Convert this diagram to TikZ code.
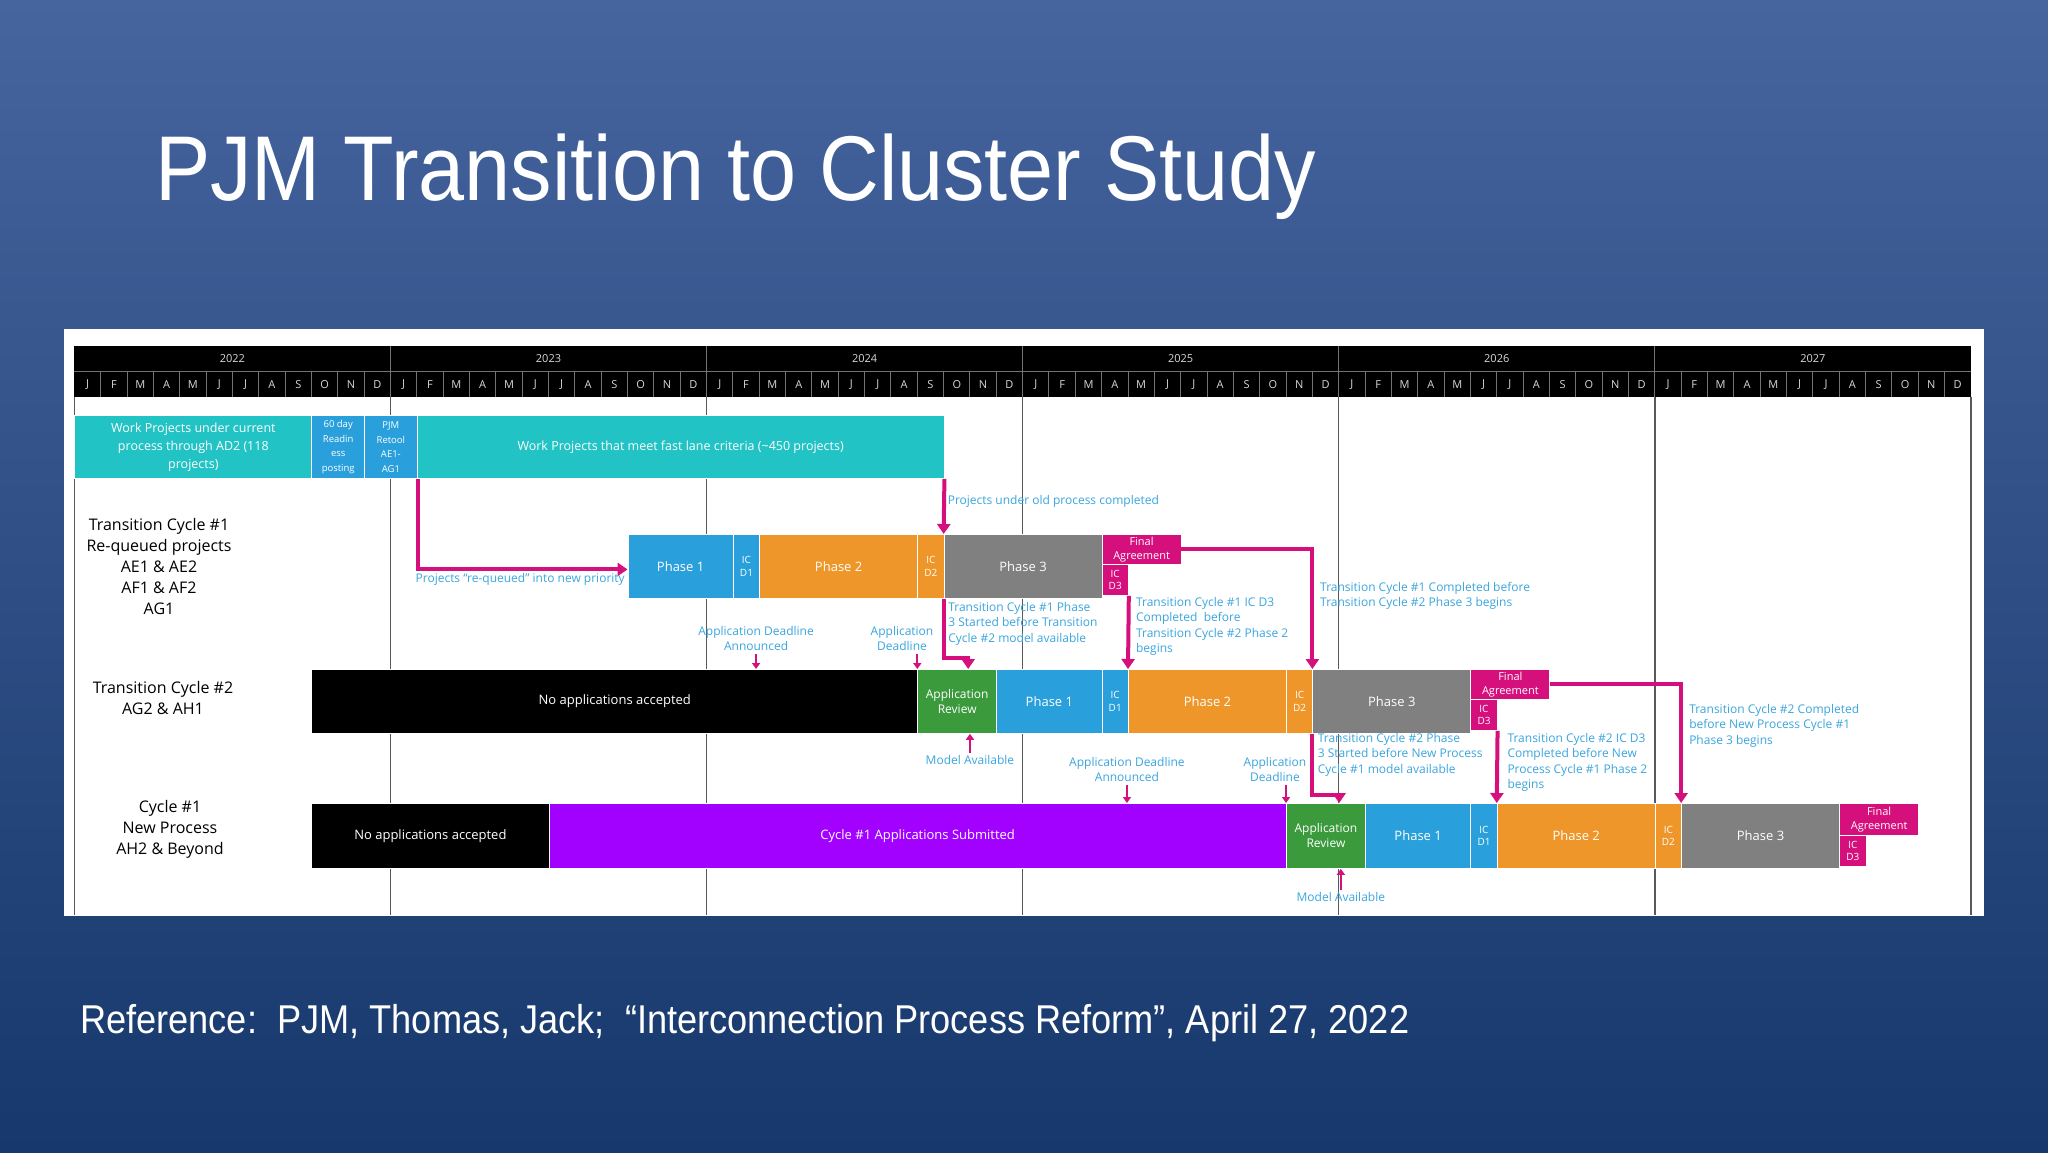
\documentclass[tikz,border=0pt]{standalone}
\usepackage{fontspec}
\setmainfont{Open Sans}
\newfontfamily\titlefont[FakeStretch=0.9]{Liberation Sans}
\usetikzlibrary{arrows.meta}
\definecolor{bgtop}{HTML}{46649E}
\definecolor{bgmid}{HTML}{345792}
\definecolor{bgbot}{HTML}{16386C}
\definecolor{cteal}{HTML}{22C3C4}
\definecolor{cblue}{HTML}{29A0DB}
\definecolor{corange}{HTML}{EE9629}
\definecolor{cgray}{HTML}{808080}
\definecolor{cmag}{HTML}{D5107D}
\definecolor{cgreen}{HTML}{3A9A3C}
\definecolor{cpurple}{HTML}{A200FF}
\definecolor{cnote}{HTML}{3AA6DE}
\tikzset{
  gbar/.style={anchor=north west, draw=white, line width=0.8pt, inner sep=0pt,
    minimum width=#1*26.34pt, minimum height=64pt, text=white, align=center,
    font=\fontsize{13}{16}\selectfont},
  icbox/.style={gbar=1, font=\fontsize{10}{12.5}\selectfont},
  fabox/.style={gbar=3, fill=cmag, minimum height=30pt, font=\fontsize{11}{14}\selectfont},
  dthree/.style={gbar=1, fill=cmag, minimum height=31pt, font=\fontsize{10}{12.5}\selectfont},
  hdr/.style={text=black!15, inner sep=0pt, font=\fontsize{11}{13}\selectfont},
  note/.style={text=cnote, align=left, inner sep=0pt, font=\fontsize{12}{15.5}\selectfont},
  rowlab/.style={align=center, inner sep=0pt, font=\fontsize{16}{21}\selectfont},
  link/.style={draw=cmag, line width=4pt, -{Triangle[length=10pt,width=13pt]}},
  smallarrow/.style={draw=cmag, line width=2pt, -{Triangle[length=6pt,width=8pt]}},
  yearline/.style={draw=black!65, line width=1.5pt}
}
\begin{document}
\begin{tikzpicture}[x=1pt, y=-1pt]
    \useasboundingbox (0,0) rectangle (2048,1152);
    \shade[top color=bgtop, middle color=bgmid, bottom color=bgbot] (0,0) rectangle (2048,1152);
    \node[anchor=base west, inner sep=0pt, text=white, font=\titlefont\fontsize{92}{100}\selectfont] (title) at (155,200) {PJM Transition to Cluster Study};
    \fill[white] (64,329) rectangle (1984,916);
    \node[rowlab] (tcalab) at (159,566) {Transition Cycle \#1\\Re-queued projects\\AE1 \& AE2\\AF1 \& AF2\\AG1};
    \node[rowlab] (tcblab) at (163,697.5) {Transition Cycle \#2\\AG2 \& AH1};
    \node[rowlab] (cylab) at (170,829) {Cycle \#1\\New Process\\AH2 \& Beyond};
    \begin{scope}[shift={(74.4,0)}, x=26.34pt]
    \fill[black] (0,346) rectangle (72,397);
    \draw[black!55, line width=1pt] (0,371.5) -- (72,371.5);
    \foreach \m in {1,...,71}
        \draw[black!55, line width=1pt] (\m,371.5) -- (\m,397);
    \foreach \k in {1,...,5}
        \draw[black!55, line width=1pt] (12*\k,346) -- (12*\k,371.5);
    \foreach \yr [count=\k from 0] in {2022,...,2027}
        \node[hdr] (yr\yr) at (12*\k+6,358.5) {\yr};
    \foreach \ml [count=\i from 0] in {J,F,M,A,M,J,J,A,S,O,N,D} {
        \foreach \k in {0,...,5}
            \node[hdr] at (12*\k+\i+0.5,384.5) {\ml};
    }
    \foreach \k in {0,...,6}
        \draw[yearline] (12*\k,397) -- (12*\k,915);

    \node[gbar=9, fill=cteal, minimum height=63pt, font=\fontsize{12.5}{18}\selectfont] (wpcur) at (0,415) {Work Projects under current\\process through AD2 (118\\projects)};
    \node[gbar=2, fill=cblue, minimum height=63pt, font=\fontsize{9.5}{14.5}\selectfont] (readiness) at (9,415) {60 day\\Readin\\ess\\posting};
    \node[gbar=2, fill=cblue, minimum height=63pt, font=\fontsize{9.5}{14.5}\selectfont] (retool) at (11,415) {PJM\\Retool\\AE1-\\AG1};
    \node[gbar=20, fill=cteal, minimum height=63pt, font=\fontsize{12.5}{16}\selectfont] (fastlane) at (13,415) {Work Projects that meet fast lane criteria (\textasciitilde450 projects)};

    \node[gbar=4, fill=cblue] (tcaPone) at (21,534) {Phase 1};
    \node[icbox, fill=cblue] (tcaicdone) at (25,534) {IC\\D1};
    \node[gbar=6, fill=corange] (tcaPtwo) at (26,534) {Phase 2};
    \node[icbox, fill=corange] (tcaicdtwo) at (32,534) {IC\\D2};
    \node[gbar=6, fill=cgray] (tcaPthree) at (33,534) {Phase 3};
    \node[fabox] (tcafa) at (39,534) {Final\\Agreement};
    \node[dthree] (tcaicd) at (39,564) {IC\\D3};

    \node[gbar=23, fill=black] (tcbblack) at (9,669) {No applications accepted};
    \node[gbar=3, fill=cgreen, font=\fontsize{12}{15}\selectfont] (tcbrev) at (32,669) {Application\\Review};
    \node[gbar=4, fill=cblue] (tcbPone) at (35,669) {Phase 1};
    \node[icbox, fill=cblue] (tcbicdone) at (39,669) {IC\\D1};
    \node[gbar=6, fill=corange] (tcbPtwo) at (40,669) {Phase 2};
    \node[icbox, fill=corange] (tcbicdtwo) at (46,669) {IC\\D2};
    \node[gbar=6, fill=cgray] (tcbPthree) at (47,669) {Phase 3};
    \node[fabox] (tcbfa) at (53,669) {Final\\Agreement};
    \node[dthree] (tcbicd) at (53,699) {IC\\D3};

    \node[gbar=9, fill=black, minimum height=65pt] (cyblack) at (9,803) {No applications accepted};
    \node[gbar=28, fill=cpurple, minimum height=65pt] (cysub) at (18,803) {Cycle \#1 Applications Submitted};
    \node[gbar=3, fill=cgreen, minimum height=65pt, font=\fontsize{12}{15}\selectfont] (cyrev) at (46,803) {Application\\Review};
    \node[gbar=4, fill=cblue, minimum height=65pt] (cyPone) at (49,803) {Phase 1};
    \node[icbox, fill=cblue, minimum height=65pt] (cyicdone) at (53,803) {IC\\D1};
    \node[gbar=6, fill=corange, minimum height=65pt] (cyPtwo) at (54,803) {Phase 2};
    \node[icbox, fill=corange, minimum height=65pt] (cyicdtwo) at (60,803) {IC\\D2};
    \node[gbar=6, fill=cgray, minimum height=65pt] (cyPthree) at (61,803) {Phase 3};
    \node[fabox, minimum height=32pt] (cyfa) at (67,803) {Final\\Agreement};
    \node[dthree] (cyicd) at (67,835) {IC\\D3};

    \node[note, anchor=east] (requeue) at (20.9,579) {Projects “re-queued” into new priority};
    \node[note, anchor=west] (oldnote) at (33.15,501.5) {Projects under old process completed};
    \node[note, anchor=north west] (tcaPthreenote) at (33.17,602) {Transition Cycle \#1 Phase\\3 Started before Transition\\Cycle \#2 model available};
    \node[note, anchor=north west] (tcaicdnote) at (40.3,597) {Transition Cycle \#1 IC D3\\Completed\ \ before\\Transition Cycle \#2 Phase 2\\begins};
    \node[note, anchor=north west] (tcadonenote) at (47.29,582) {Transition Cycle \#1 Completed before\\Transition Cycle \#2 Phase 3 begins};
    \node[note, align=center] (tcbann) at (25.88,638.5) {Application Deadline\\Announced};
    \node[note, align=center] (tcbdead) at (31.42,638.5) {Application\\Deadline};
    \node[note] (tcbmodel) at (34,760) {Model Available};
    \node[note, anchor=north west] (tcbPthreenote) at (47.2,733) {Transition Cycle \#2 Phase\\3 Started before New Process\\Cycle \#1 model available};
    \node[note, anchor=north west] (tcbicdnote) at (54.4,733) {Transition Cycle \#2 IC D3\\Completed before New\\Process Cycle \#1 Phase 2\\begins};
    \node[note, anchor=north west] (tcbdonenote) at (61.3,704) {Transition Cycle \#2 Completed\\before New Process Cycle \#1\\Phase 3 begins};
    \node[note, align=center] (cyann) at (39.96,769.5) {Application Deadline\\Announced};
    \node[note, align=center] (cydead) at (45.58,769.5) {Application\\Deadline};
    \node[note] (cymodel) at (48.08,897) {Model Available};

    \draw[link] (retool.south east) |- ([yshift=-3pt]tcaPone.west);
    \draw[link] (fastlane.south east) -- (tcaPthree.north west);
    \draw[link] (tcaPthree.south west) -- ++(0,59) -| ([xshift=11pt]tcbrev.north);
    \draw[link] (tcaicd.south east) -- (tcbPtwo.north west);
    \draw[link] (tcafa.east) -| (tcbPthree.north west);
    \draw[link] (tcbPthree.south west) -- ++(0,61) -| ([xshift=13.2pt]cyrev.north);
    \draw[link] (tcbicd.south east) -- (cyPtwo.north west);
    \draw[link] (tcbfa.east) -| (cyPthree.north west);

    \draw[smallarrow] ([yshift=-3pt]tcbann.south) -- (tcbann.south |- tcbblack.north);
    \draw[smallarrow] ([yshift=-3pt]tcbdead.south -| tcbrev.north west) -- (tcbrev.north west);
    \draw[smallarrow] ([yshift=2pt]tcbmodel.north) -- (tcbmodel.north |- tcbrev.south);
    \draw[smallarrow] ([yshift=-3pt]cyann.south) -- (cyann.south |- cysub.north);
    \draw[smallarrow] ([yshift=-3pt]cydead.south -| cyrev.north west) -- (cyrev.north west);
    \draw[smallarrow] ([yshift=2pt]cymodel.north) -- (cymodel.north |- cyrev.south);
    \end{scope}
    \node[anchor=base west, inner sep=0pt, text=white, font=\titlefont\fontsize{40.2}{46}\selectfont] (refline) at (80,1033) {Reference:\ \ PJM, Thomas, Jack;\ \ “Interconnection Process Reform”, April 27, 2022};
\end{tikzpicture}
\end{document}
